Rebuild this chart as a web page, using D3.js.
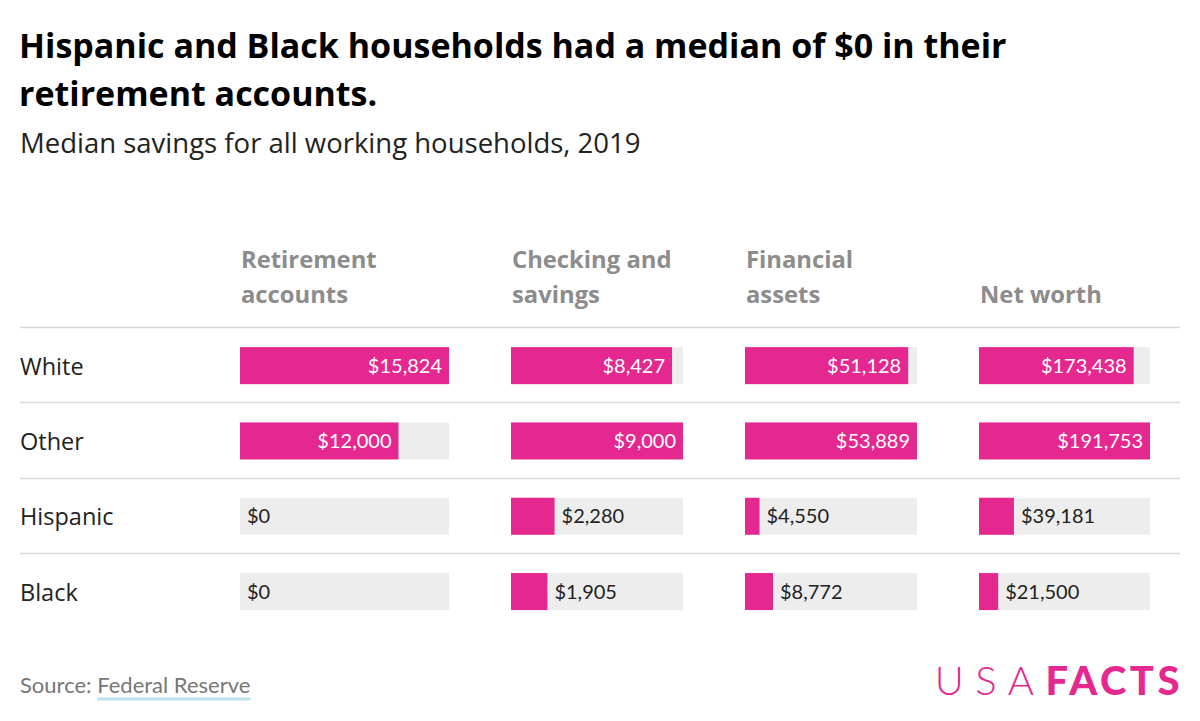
<!DOCTYPE html>
<html lang="en">
<head>
<meta charset="UTF-8">
<title>Median savings by race</title>
<script src="https://cdn.jsdelivr.net/npm/d3@7"></script>
<style>
  body { margin: 0; background: #fff; }
  svg { display: block; font-family: Lato, "Open Sans", sans-serif; }
  .wide { font-family: "Open Sans", Lato, sans-serif; }
</style>
</head>
<body>
<svg id="chart"></svg>
<script>
var WIDTH = 1200;
var HEIGHT = 721;

// data
var groups = ["White", "Other", "Hispanic", "Black"];
var measures = [["Retirement", "accounts"], ["Checking and", "savings"], ["Financial", "assets"], ["Net worth"]];
var retirement = [15824, 12000, 0, 0];
var checking = [8427, 9000, 2280, 1905];
var financial = [51128, 53889, 4550, 8772];
var netWorth = [173438, 191753, 39181, 21500];
var series = [retirement, checking, financial, netWorth];

// layout of the table columns
var colX = [240, 511, 745, 979];
var colW = [209, 172, 172, 171];
var TOP = 327, ROW_H = 75.3, BAR_H = 37;

var PINK = "#e5288f";
var fmt = d3.format("$,");

var svg = d3.select("#chart").attr("width", WIDTH).attr("height", HEIGHT);

// title
svg.append("text").attr("class", "wide").attr("x", 19).attr("y", 58)
   .attr("font-size", 34).attr("font-weight", 700).attr("fill", "#000")
   .text("Hispanic and Black households had a median of $0 in their");
svg.append("text").attr("class", "wide").attr("x", 19).attr("y", 106)
   .attr("font-size", 34).attr("font-weight", 700).attr("fill", "#000")
   .text("retirement accounts.");
svg.append("text").attr("class", "wide").attr("x", 20).attr("y", 153)
   .attr("font-size", 27.5).attr("fill", "#222")
   .text("Median savings for all working households, 2019");

var yScale = d3.scaleBand()
               .domain(groups)
               .range([TOP, TOP + ROW_H * groups.length]);

// column headers
measures.forEach(function(m, c){
    var t = svg.append("text").attr("class", "wide")
               .attr("x", colX[c] + 1)
               .attr("y", 303 - (m.length - 1) * 35)
               .attr("font-size", 23.8).attr("font-weight", 700)
               .attr("fill", "#8c8c8c");
    m.forEach(function(line, i){
        t.append("tspan").attr("x", colX[c] + 1).attr("dy", i ? 35 : 0).text(line);
    });
});

// row rules
svg.append("g").selectAll("line")
   .data(groups)
   .enter()
   .append("line")
   .attr("x1", 20).attr("x2", 1180)
   .attr("y1", function(d){ return Math.round(yScale(d)) + 0.5; })
   .attr("y2", function(d){ return Math.round(yScale(d)) + 0.5; })
   .attr("stroke", "#d9d9d9").attr("stroke-width", 1.5);

// row labels
svg.append("g").selectAll("text")
   .data(groups)
   .enter()
   .append("text").attr("class", "wide")
   .attr("x", 20)
   .attr("y", function(d){ return yScale(d) + ROW_H / 2 + 10; })
   .attr("font-size", 23.5).attr("fill", "#222")
   .text(function(d){ return d; });

// bars per column
series.forEach(function(vals, c){
    var x = d3.scaleLinear()
              .domain([0, d3.max(vals)])
              .range([0, colW[c]]);
    var g = svg.append("g").attr("transform", "translate(" + colX[c] + ",0)");

    var rows = g.selectAll("g")
                .data(vals)
                .enter()
                .append("g")
                .attr("transform", function(d, i){
                    return "translate(0," + (yScale(groups[i]) + (ROW_H - BAR_H) / 2 + 1) + ")";
                });

    rows.append("rect")
        .attr("width", colW[c]).attr("height", BAR_H)
        .attr("fill", "#ededed");

    rows.append("rect")
        .attr("width", function(d){ return x(d); })
        .attr("height", BAR_H)
        .attr("fill", PINK);

    rows.append("text")
        .attr("y", BAR_H / 2 + 7)
        .attr("font-size", 20)
        .each(function(d){
            var inside = x(d) > 90;
            d3.select(this)
              .attr("x", inside ? x(d) - 7 : x(d) + 7)
              .attr("text-anchor", inside ? "end" : "start")
              .attr("fill", inside ? "#fff" : "#222");
        })
        .text(function(d){ return fmt(d); });
});

// footer
var src = svg.append("text").attr("x", 20).attr("y", 693)
             .attr("font-size", 22).attr("fill", "#777");
var lead = src.append("tspan").text("Source: ");
src.append("tspan").text("Federal Reserve");
var x0 = 20 + lead.node().getComputedTextLength();
var x1 = 20 + src.node().getComputedTextLength();
svg.append("line")
   .attr("x1", x0).attr("x2", x1)
   .attr("y1", 699).attr("y2", 699)
   .attr("stroke", "#bde0ef").attr("stroke-width", 3);

// logo
var logo = svg.append("text").attr("x", 1183).attr("y", 695)
              .attr("text-anchor", "end").attr("font-size", 40)
              .attr("fill", PINK).attr("letter-spacing", 3.5);
logo.append("tspan").attr("font-weight", 300).attr("letter-spacing", 11.5).text("USA");
logo.append("tspan").attr("font-weight", 900).text("FACTS");
</script>
</body>
</html>
